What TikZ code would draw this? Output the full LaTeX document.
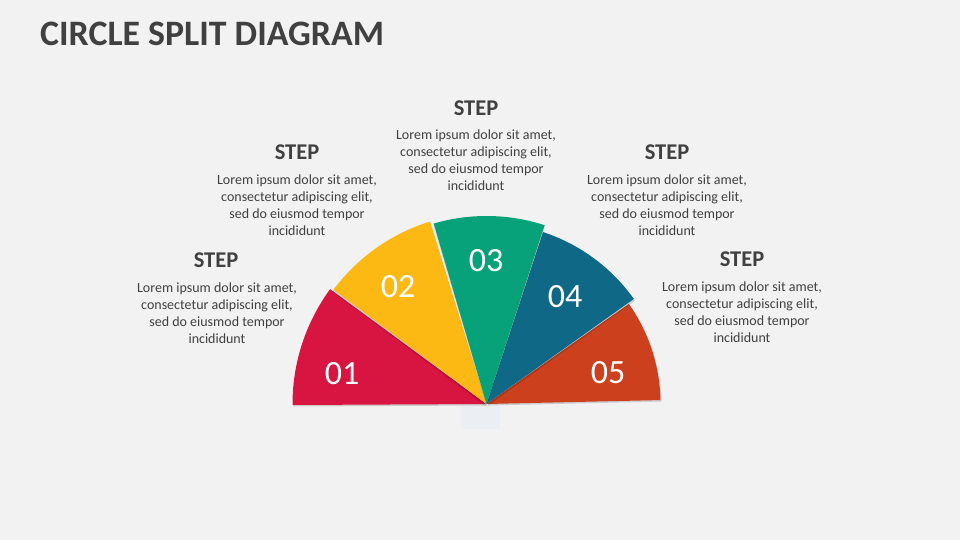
\documentclass[tikz,border=0pt]{standalone}
\usepackage{fontspec}
\setmainfont{Carlito}
\usepackage{tikz}

\definecolor{bggray}{HTML}{F2F2F2}
\definecolor{hubgray}{HTML}{EBEFF3}
\definecolor{textgray}{HTML}{404040}
\definecolor{stepred}{HTML}{D81540}
\definecolor{stepyellow}{HTML}{FDB913}
\definecolor{stepgreen}{HTML}{07A279}
\definecolor{stepblue}{HTML}{0F6886}
\definecolor{steporange}{HTML}{CD401E}

\begin{document}
\begin{tikzpicture}[x=1pt,y=1pt,
    steptitle/.style={inner sep=0pt, text=textgray, font=\bfseries\fontsize{22.5}{26}\selectfont},
    steptext/.style={inner sep=0pt, text=textgray, align=center, font=\fontsize{14}{17}\selectfont},
    stepnum/.style={inner sep=0pt, text=white, font=\fontsize{34}{40}\selectfont},
    wedgeshadow/.style={fill=black, opacity=0.15}]
    \fill [bggray] (0,0) rectangle (960,540);
    \useasboundingbox (0,0) rectangle (960,540);
    \node [anchor=base west, inner sep=0pt, text=textgray, font=\bfseries\fontsize{35.8}{42}\selectfont] (title) at (40,494) {CIRCLE SPLIT DIAGRAM};
    \coordinate (hub) at (486.5,136);
    \fill [hubgray] (461,111) rectangle (500,135);
    % wedges, outer ones first
    \fill [wedgeshadow] ([shift={(1,-1.5)}]hub) -- ++(180.3:194) arc (180.3:143.7:194) -- cycle;
    \fill [stepred] (hub) -- ++(180.3:194) arc (180.3:143.7:194) -- cycle;
    \fill [wedgeshadow] ([shift={(1,-1.5)}]hub) -- ++(35.1:174) arc (35.1:1.3:174) -- cycle;
    \fill [steporange] (hub) -- ++(35.1:174) arc (35.1:1.3:174) -- cycle;
    \fill [wedgeshadow] ([shift={(-1,-2)}]hub) -- ++(143.2:191) arc (143.2:107.2:191) -- cycle;
    \fill [stepyellow] (hub) -- ++(143.2:191) arc (143.2:107.2:191) -- cycle;
    \fill [wedgeshadow] ([shift={(1,-2)}]hub) -- ++(71.8:181) arc (71.8:35.5:181) -- cycle;
    \fill [stepblue] (hub) -- ++(71.8:181) arc (71.8:35.5:181) -- cycle;
    \fill [wedgeshadow] ([shift={(0,-2)}]hub) -- ++(106.3:188) arc (106.3:72:188) -- cycle;
    \fill [stepgreen] (hub) -- ++(106.3:188) arc (106.3:72:188) -- cycle;
    % numbers
    \node [stepnum] (num1) at (342,166) {01};
    \node [stepnum] (num2) at (398,253) {02};
    \node [stepnum] (num3) at (486,279) {03};
    \node [stepnum] (num4) at (565,243) {04};
    \node [stepnum] (num5) at (608,167) {05};
    % texts
    \node [steptitle] (head1) at (216,280) {STEP};
    \node [steptext] (body1) at (217,226.5) {Lorem ipsum dolor sit amet,\\consectetur adipiscing elit,\\sed do eiusmod tempor\\incididunt};
    \node [steptitle] (head2) at (297,388) {STEP};
    \node [steptext] (body2) at (297,335) {Lorem ipsum dolor sit amet,\\consectetur adipiscing elit,\\sed do eiusmod tempor\\incididunt};
    \node [steptitle] (head3) at (476,432) {STEP};
    \node [steptext] (body3) at (476,379.5) {Lorem ipsum dolor sit amet,\\consectetur adipiscing elit,\\sed do eiusmod tempor\\incididunt};
    \node [steptitle] (head4) at (667,388) {STEP};
    \node [steptext] (body4) at (667,335) {Lorem ipsum dolor sit amet,\\consectetur adipiscing elit,\\sed do eiusmod tempor\\incididunt};
    \node [steptitle] (head5) at (742,281) {STEP};
    \node [steptext] (body5) at (742,227.5) {Lorem ipsum dolor sit amet,\\consectetur adipiscing elit,\\sed do eiusmod tempor\\incididunt};
\end{tikzpicture}
\end{document}
